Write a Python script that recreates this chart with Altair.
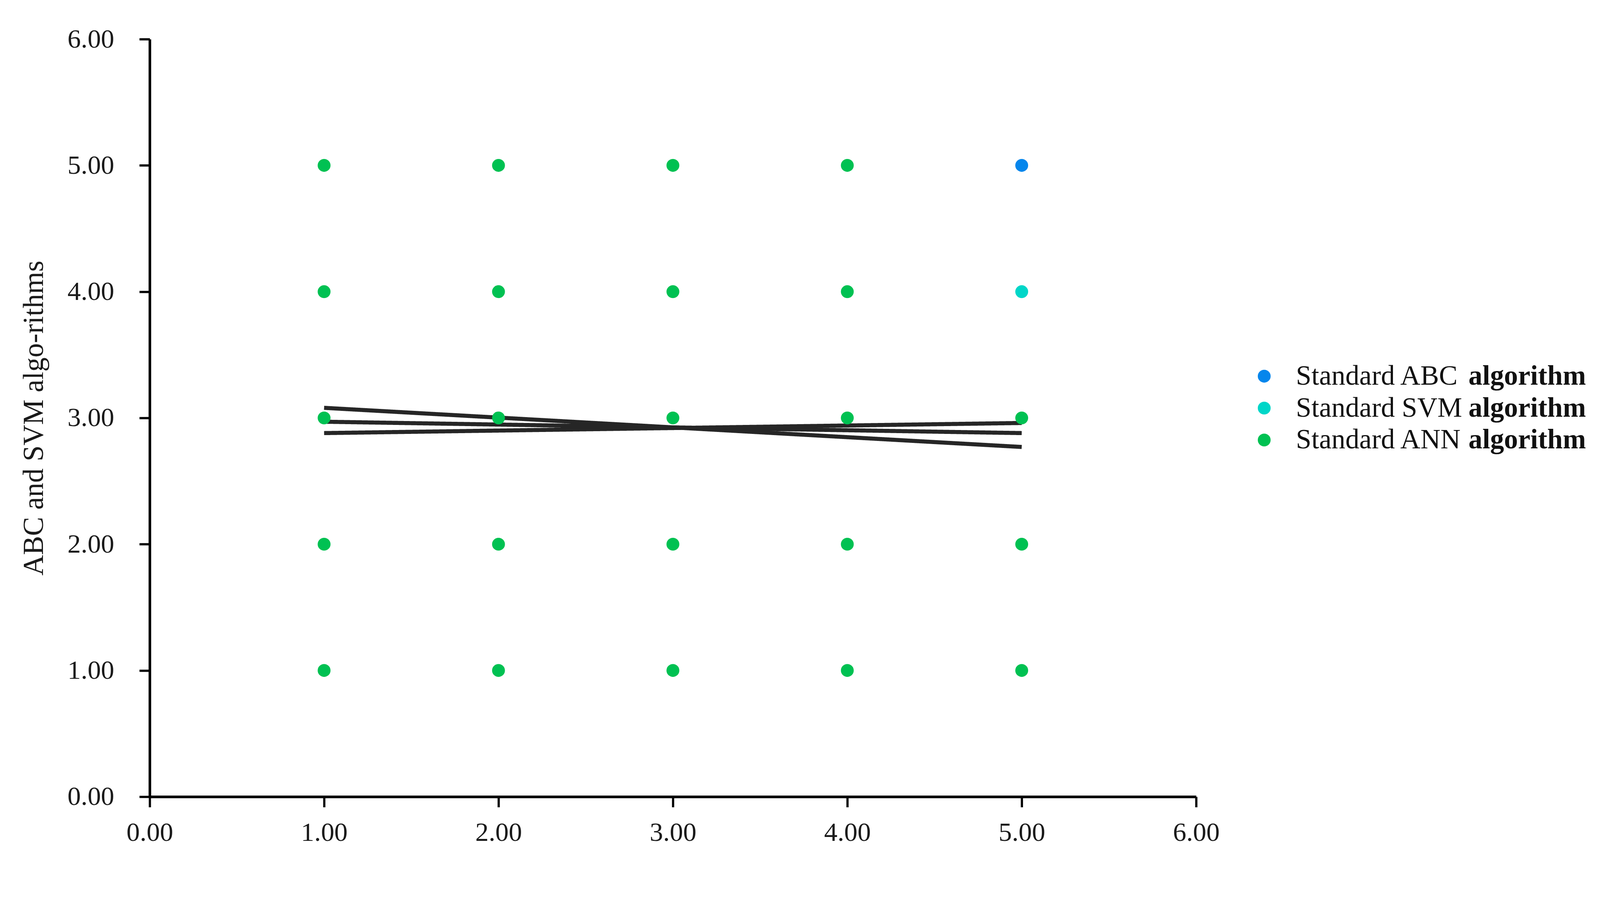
import altair as alt
import pandas as pd

# ---- data ----
series_names = ["Standard ABC algorithm", "Standard SVM algorithm", "Standard ANN algorithm"]
series_short = ["ABC", "SVM", "ANN"]
series_colors = ["#0586EC", "#00D6C8", "#00C152"]

abc_x = [5]
abc_y = [5]
svm_x = [5]
svm_y = [4]
ann_x = [1, 1, 1, 1, 1, 2, 2, 2, 2, 2, 3, 3, 3, 3, 3, 4, 4, 4, 4, 4, 5, 5, 5]
ann_y = [1, 2, 3, 4, 5, 1, 2, 3, 4, 5, 1, 2, 3, 4, 5, 1, 2, 3, 4, 5, 1, 2, 3]

fit_x = [1, 5]
abc_fit = [3.08, 2.77]
svm_fit = [2.97, 2.88]
ann_fit = [2.88, 2.96]

axis_ticks = [0, 1, 2, 3, 4, 5, 6]
y_title = "ABC and SVM algo-rithms"

# ---- tables ----
pts = pd.concat([
    pd.DataFrame({"series": series_names[0], "x": abc_x, "y": abc_y}),
    pd.DataFrame({"series": series_names[1], "x": svm_x, "y": svm_y}),
    pd.DataFrame({"series": series_names[2], "x": ann_x, "y": ann_y}),
], ignore_index=True)
pts["order"] = range(len(pts))

fits = pd.concat([
    pd.DataFrame({"fit": series_short[0], "x": fit_x, "y": abc_fit}),
    pd.DataFrame({"fit": series_short[1], "x": fit_x, "y": svm_fit}),
    pd.DataFrame({"fit": series_short[2], "x": fit_x, "y": ann_fit}),
], ignore_index=True)

FONT = "Liberation Serif"

xscale = alt.Scale(domain=[0, 6], nice=False, zero=False)
yscale = alt.Scale(domain=[0, 6], nice=False, zero=False)

xaxis = alt.Axis(values=axis_ticks, format=".2f", title=None, grid=False,
                 domainColor="black", domainWidth=7, tickColor="black", tickWidth=6,
                 tickSize=28, labelFont=FONT, labelFontSize=72, labelColor="#1a1a1a",
                 labelPadding=34, labelFlush=False)
yaxis = alt.Axis(values=axis_ticks, format=".2f", title=y_title, grid=False,
                 domainColor="black", domainWidth=7, tickColor="black", tickWidth=6,
                 tickSize=28, labelFont=FONT, labelFontSize=72, labelColor="#1a1a1a",
                 labelPadding=68, labelFlush=False, titleFont=FONT, titleFontSize=77,
                 titleFontWeight="normal", titleColor="#1a1a1a", titlePadding=72)

LEG_X = 2966
LEG_Y = 871

# second (text-only) legend carries the bold word of each label
lines = alt.Chart(fits).mark_line(color="#262626", strokeWidth=11, strokeCap="butt").encode(
    x=alt.X("x:Q", scale=xscale, axis=xaxis),
    y=alt.Y("y:Q", scale=yscale, axis=yaxis),
    strokeDash=alt.StrokeDash("fit:N",
                              scale=alt.Scale(domain=series_short,
                                              range=[[1, 0], [1, 0], [1, 0]]),
                              legend=alt.Legend(title=None, orient="none",
                                                legendX=LEG_X + 465, legendY=LEG_Y,
                                                symbolType="circle", symbolSize=1200,
                                                symbolOpacity=0, symbolStrokeWidth=0,
                                                labelExpr="'algorithm'",
                                                labelFont=FONT, labelFontSize=75,
                                                labelFontWeight="bold", labelColor="#111111",
                                                labelOffset=48, labelLimit=3000,
                                                rowPadding=10, padding=0)),
)

points = alt.Chart(pts).mark_circle(size=1200, opacity=1).encode(
    x=alt.X("x:Q", scale=xscale, axis=xaxis),
    y=alt.Y("y:Q", scale=yscale, axis=yaxis),
    color=alt.Color("series:N",
                    scale=alt.Scale(domain=series_names, range=series_colors),
                    legend=alt.Legend(title=None, orient="none", legendX=LEG_X, legendY=LEG_Y,
                                      symbolType="circle", symbolSize=1200,
                                      symbolStrokeWidth=0, symbolOpacity=1,
                                      labelExpr="replace(datum.label, ' algorithm', '')",
                                      labelFont=FONT, labelFontSize=75, labelColor="#111111",
                                      labelOffset=48, labelLimit=3000, rowPadding=10,
                                      padding=0)),
    order="order:Q",
)

chart = alt.layer(lines, points).properties(
    width=2820,
    height=2042,
    background="white",
    autosize=alt.AutoSizeParams(type="none"),
    padding={"left": 395, "top": 37, "right": 1080, "bottom": 200},
).configure_view(stroke=None)

chart.save("out.html", embed_options={"renderer": "svg", "actions": False})
